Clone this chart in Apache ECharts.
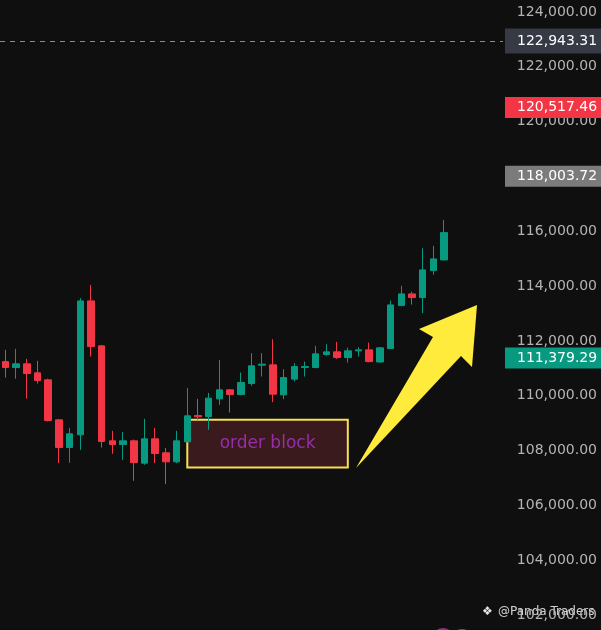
<!DOCTYPE html>
<html>
<head>
<meta charset="utf-8">
<script src="https://cdn.jsdelivr.net/npm/echarts@6/dist/echarts.min.js"></script>
<style>
  html, body { margin: 0; padding: 0; background: #0f0f0f; }
  #chart { width: 601px; height: 630px; }
</style>
</head>
<body>
<div id="chart"></div>
<script>
// candles
var openV  = [111246, 111028, 111163, 110834, 110579, 109120, 108110, 108573, 113460, 111819,
              108354, 108219, 108354, 107541, 108427, 107917, 107588, 108318, 109277, 109240,
              109886, 110214, 110043, 110444, 111115, 111126, 110032, 110605, 111028, 111028,
              111502, 111600, 111392, 111637, 111673, 111230, 111721, 113289, 113715, 113581,
              114565, 114955];
var closeV = [111028, 111163, 110809, 110554, 109095, 108110, 108610, 113460, 111793, 108329,
              108219, 108354, 107563, 108427, 107891, 107588, 108354, 109266, 109230, 109912,
              110214, 110043, 110481, 111090, 111151, 110057, 110663, 111064, 111064, 111527,
              111600, 111392, 111637, 111673, 111246, 111746, 113314, 113715, 113581, 114591,
              114992, 115951];
var lowV   = [110663, 110616, 109897, 110444, 109060, 107541, 107552, 108026, 111429, 108110,
              107880, 107661, 106896, 107479, 107541, 106775, 107541, 108300, 109120, 108756,
              109667, 109386, 110020, 110360, 110699, 109766, 109875, 110517, 110699, 111000,
              111454, 111345, 111210, 111429, 111220, 111210, 111700, 113270, 113325, 113012,
              114419, 114940];
var highV  = [111673, 111710, 111345, 111272, 110620, 109150, 108828, 113559, 114044, 111850,
              108719, 108672, 108400, 109157, 108828, 108099, 108719, 110287, 109886, 110105,
              111308, 110240, 110845, 111553, 111553, 112063, 110969, 111188, 111246, 111819,
              111881, 111965, 111757, 111771, 111939, 111780, 113471, 114007, 113799, 115382,
              115466, 116414];
var emptySlots = 5;

// price tags on the right axis
var tagValues = [122943.31, 120517.46, 118003.72, 111379.29];
var tagColors = ['#363a45', '#f23645', '#7b7b7b', '#089981'];

// order block zone (category index, price)
var blockFrom = [17, 107380];
var blockTo = [32, 109120];

var yTicks = { min: 102000, max: 124000, step: 2000 };

var categories = [];
for (var i = 0; i < openV.length + emptySlots; i++) categories.push(String(i + 1));
var candles = openV.map(function (o, i) { return [o, closeV[i], lowV[i], highV[i]]; });

function fmt(v) {
    return v.toLocaleString('en-US', { minimumFractionDigits: 2, maximumFractionDigits: 2 });
}

var chart = echarts.init(document.getElementById('chart'));
var font = 'DejaVu Sans';

var tagLines = tagValues.map(function (v, i) {
    return {
        yAxis: v,
        lineStyle: i === 0
            ? { color: '#8a8a8a', type: [5, 5], width: 1 }
            : { color: 'rgba(0,0,0,0)', width: 0 },
        label: {
            show: true,
            position: 'end',
            distance: 2,
            formatter: fmt(v),
            color: '#ffffff',
            fontFamily: font,
            fontSize: 14,
            backgroundColor: tagColors[i],
            padding: i === 0 ? [6, 4, 5, 12] : [4, 4, 3, 12]
        }
    };
});

var option = {
    backgroundColor: '#0f0f0f',
    animation: false,
    grid: { left: -1, right: 98, top: 12, bottom: 15 },
    xAxis: {
        type: 'category',
        data: categories,
        boundaryGap: true,
        axisLine: { show: false },
        axisTick: { show: false },
        axisLabel: { show: false },
        splitLine: { show: false }
    },
    yAxis: {
        type: 'value',
        position: 'right',
        min: yTicks.min,
        max: yTicks.max,
        interval: yTicks.step,
        axisLine: { show: false },
        axisTick: { show: false },
        splitLine: { show: false },
        axisLabel: {
            align: 'right',
            margin: 94,
            color: '#b4b4b4',
            fontFamily: font,
            fontSize: 14,
            formatter: function (v) { return fmt(v); }
        }
    },
    series: [{
        type: 'candlestick',
        data: candles,
        barWidth: 7,
        itemStyle: {
            color: '#089981',
            color0: '#f23645',
            borderColor: '#089981',
            borderColor0: '#f23645',
            borderWidth: 1
        },
        markLine: {
            silent: true,
            symbol: ['none', 'none'],
            data: tagLines
        },
        markArea: {
            silent: true,
            itemStyle: { color: '#3b1a1e', borderColor: '#f6e052', borderWidth: 2 },
            label: {
                show: true,
                position: 'inside',
                color: '#962fa8',
                fontFamily: font,
                fontSize: 17
            },
            data: [[
                { name: 'order block', xAxis: blockFrom[0], yAxis: blockFrom[1] },
                { xAxis: blockTo[0], yAxis: blockTo[1] }
            ]]
        }
    }],
    graphic: [
        {
            type: 'polygon',
            shape: { points: [[356, 468], [433, 337], [419, 329], [477, 305], [472, 367], [461, 356]] },
            style: { fill: '#ffeb3b' }
        },
        { type: 'circle', shape: { cx: 443, cy: 639, r: 11 }, style: { fill: '#8e2a8e' } },
        { type: 'circle', shape: { cx: 462, cy: 640, r: 11 }, style: { fill: '#c2304a' } },
        {
            type: 'text', x: 482, y: 606,
            style: { text: '❖', fill: '#e6e6e6', font: '12px DejaVu Sans' }
        },
        {
            type: 'text', x: 498, y: 606,
            style: { text: '@Panda Traders', fill: '#e6e6e6', font: '12px DejaVu Sans', opacity: 0.9 }
        }
    ]
};

chart.setOption(option);
</script>
</body>
</html>
